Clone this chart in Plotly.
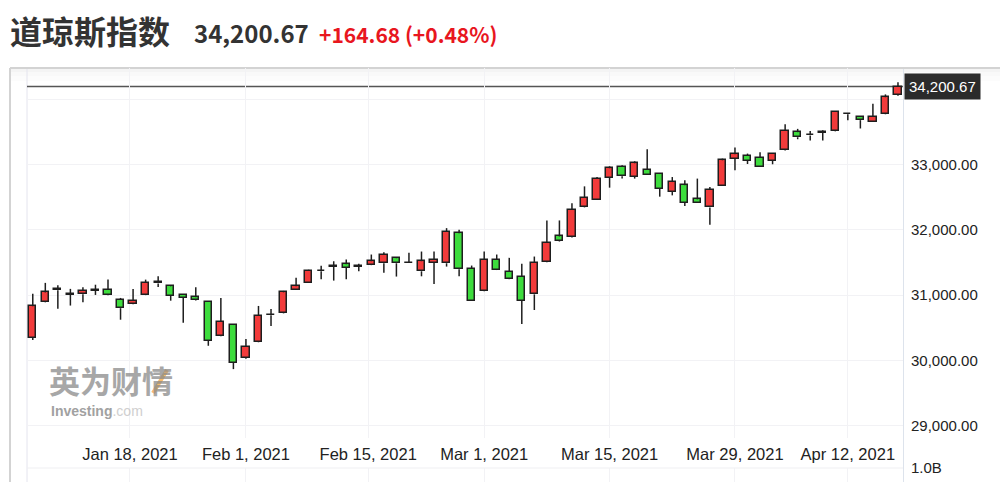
import plotly.graph_objects as go
from datetime import date

# ---------------- data ----------------
dates = [
    "2021-01-06", "2021-01-07", "2021-01-08", "2021-01-11", "2021-01-12", "2021-01-13", "2021-01-14", "2021-01-15",
    "2021-01-19", "2021-01-20", "2021-01-21", "2021-01-22", "2021-01-25", "2021-01-26", "2021-01-27", "2021-01-28",
    "2021-01-29", "2021-02-01", "2021-02-02", "2021-02-03", "2021-02-04", "2021-02-05", "2021-02-08", "2021-02-09",
    "2021-02-10", "2021-02-11", "2021-02-12", "2021-02-16", "2021-02-17", "2021-02-18", "2021-02-19", "2021-02-22",
    "2021-02-23", "2021-02-24", "2021-02-25", "2021-02-26", "2021-03-01", "2021-03-02", "2021-03-03", "2021-03-04",
    "2021-03-05", "2021-03-08", "2021-03-09", "2021-03-10", "2021-03-11", "2021-03-12", "2021-03-15", "2021-03-16",
    "2021-03-17", "2021-03-18", "2021-03-19", "2021-03-22", "2021-03-23", "2021-03-24", "2021-03-25", "2021-03-26",
    "2021-03-29", "2021-03-30", "2021-03-31", "2021-04-01", "2021-04-05", "2021-04-06", "2021-04-07", "2021-04-08",
    "2021-04-09", "2021-04-12", "2021-04-13", "2021-04-14", "2021-04-15", "2021-04-16",
]
opens = [
    30345, 30890, 31075, 31015, 31012, 31082, 31085, 30926,
    30868, 31008, 31195, 31135, 30997, 30966, 30895, 30366,
    30541, 30034, 30274, 30690, 30726, 31085, 31182, 31366,
    31442, 31474, 31434, 31469, 31489, 31566, 31492, 31366,
    31495, 31489, 31951, 31403, 31065, 31546, 31362, 31280,
    31012, 31511, 31900, 31889, 32346, 32465, 32803, 32972,
    32818, 32926, 32858, 32582, 32685, 32469, 32346, 32680,
    33089, 33135, 33111, 33058, 33228, 33500, 33456, 33492,
    33515, 33780, 33735, 33658, 33782, 34069,
]
highs = [
    31022, 31188, 31150, 31096, 31120, 31160, 31238, 30957,
    31096, 31238, 31290, 31140, 31000, 31120, 30900, 30957,
    30545, 30326, 30834, 30788, 31065, 31265, 31390, 31449,
    31520, 31546, 31480, 31623, 31659, 31570, 31649, 31669,
    31669, 32028, 32003, 31454, 31669, 31623, 31572, 31480,
    31592, 32146, 32146, 32408, 32669, 32812, 32977, 32992,
    33054, 33238, 32862, 32812, 32762, 32788, 32658, 33095,
    33265, 33172, 33192, 33170, 33623, 33551, 33520, 33531,
    33812, 33785, 33740, 33935, 34080, 34265,
]
lows = [
    30313, 30885, 30790, 30840, 30890, 31003, 30990, 30623,
    30860, 31000, 31126, 30915, 30577, 30915, 30223, 30360,
    29865, 30025, 30270, 30527, 30720, 31080, 31180, 31243,
    31223, 31243, 31366, 31460, 31342, 31285, 31487, 31289,
    31172, 31438, 31289, 30910, 31060, 31385, 31245, 30557,
    30772, 31505, 31820, 31880, 32340, 32460, 32649, 32788,
    32788, 32845, 32511, 32531, 32366, 32415, 32080, 32675,
    32915, 33012, 32966, 33008, 33220, 33392, 33372, 33372,
    33510, 33685, 33557, 33655, 33775, 34060,
]
closes = [
    30829, 31041, 31090, 31009, 31065, 31070, 30995, 30800,
    30915, 31188, 31180, 30992, 30955, 30922, 30300, 30592,
    29966, 30208, 30685, 30700, 31043, 31135, 31377, 31374,
    31435, 31423, 31442, 31520, 31623, 31489, 31488, 31520,
    31541, 31972, 31397, 30915, 31541, 31392, 31249, 30915,
    31500, 31803, 31828, 32305, 32495, 32782, 32946, 32823,
    33023, 32849, 32634, 32735, 32418, 32418, 32612, 33069,
    33162, 33065, 32966, 33166, 33526, 33423, 33450, 33497,
    33812, 33774, 33685, 33735, 34035.99, 34200.67,
]

x_tick_dates = ["2021-01-18", "2021-02-01", "2021-02-15", "2021-03-01", "2021-03-15", "2021-03-29", "2021-04-12"]
x_tick_text = ["Jan 18, 2021", "Feb 1, 2021", "Feb 15, 2021", "Mar 1, 2021", "Mar 15, 2021", "Mar 29, 2021", "Apr 12, 2021"]
y_tick_vals = [29000, 30000, 31000, 32000, 33000, 34000]
y_tick_text = ["29,000.00", "30,000.00", "31,000.00", "32,000.00", "33,000.00", ""]
vol_tick_vals = [1.0e9]
vol_tick_text = ["1.0B"]

title_text = "道琼斯指数"

# ---------------- derived ----------------
idx = list(range(len(dates)))
trade_days = [date.fromisoformat(d) for d in dates]


def tick_pos(ds):
    d = date.fromisoformat(ds)
    for i, td in enumerate(trade_days):
        if td >= d:
            return i if td == d else i - 0.25
    return len(trade_days) - 1


x_tick_vals = [tick_pos(d) for d in x_tick_dates]

UP = "#f23b3b"
DOWN = "#3ddc3d"
EDGE = "#1e1e1e"

body_base = [min(o, c) for o, c in zip(opens, closes)]
body_h = [abs(c - o) for o, c in zip(opens, closes)]
body_col = [UP if c >= o else DOWN for o, c in zip(opens, closes)]

wx, wy = [], []
for i, o, h, l, c in zip(idx, opens, highs, lows, closes):
    top, bot = max(o, c), min(o, c)
    if h > top:
        wx += [i, i, None]
        wy += [top, h, None]
    if l < bot:
        wx += [i, i, None]
        wy += [l, bot, None]

last_close = closes[-1]
change = last_close - closes[-2]
pct = change / closes[-2] * 100

# ---------------- figure ----------------
W, H = 1000, 482


def px_x(v):
    return v / W


def px_y(v):
    return 1 - v / H


fig = go.Figure()
fig.add_trace(go.Scatter(x=wx, y=wy, mode="lines", line=dict(color=EDGE, width=1.5),
                         hoverinfo="skip", showlegend=False, xaxis="x", yaxis="y"))
fig.add_trace(go.Bar(x=idx, y=body_h, base=body_base, width=0.58,
                     marker=dict(color=body_col, line=dict(color=EDGE, width=1.5)),
                     showlegend=False, xaxis="x", yaxis="y"))
fig.add_trace(go.Scatter(x=[], y=[], xaxis="x2", yaxis="y2", showlegend=False))

grid = "#f2f2f5"
tickfont_x = dict(family="Liberation Sans, Arial", size=16.5, color="#222")
tickfont_y = dict(family="Liberation Sans, Arial", size=15, color="#222")
fig.update_layout(
    template="none",
    width=W, height=H, autosize=False,
    margin=dict(l=0, r=0, t=0, b=0, pad=0),
    paper_bgcolor="white", plot_bgcolor="white",
    bargap=0, showlegend=False,
    xaxis=dict(domain=[px_x(27), px_x(903)], range=[-0.46, 69.4], anchor="y", automargin=False,
               tickvals=x_tick_vals, ticktext=x_tick_text, showgrid=True, gridcolor=grid, gridwidth=1,
               zeroline=False, showline=False, ticks="", ticklabelstandoff=4, tickfont=tickfont_x),
    yaxis=dict(domain=[px_y(438), px_y(68)], range=[28808, 34485], anchor="x", side="right", automargin=False,
               tickvals=y_tick_vals, ticktext=y_tick_text, showgrid=True, gridcolor=grid, gridwidth=1,
               zeroline=False, showline=False, ticks="", ticklabelstandoff=7, tickfont=tickfont_y),
    xaxis2=dict(domain=[px_x(27), px_x(903)], range=[-0.46, 69.4], anchor="y2", automargin=False,
                tickvals=x_tick_vals, showticklabels=False, showgrid=True, gridcolor=grid, gridwidth=1,
                zeroline=False, showline=False, ticks=""),
    yaxis2=dict(domain=[0, px_y(468)], range=[0.0, 1.0e9], anchor="x2", side="right", automargin=False,
                tickvals=vol_tick_vals, ticktext=vol_tick_text, showgrid=False,
                zeroline=False, showline=False, ticks="", ticklabelstandoff=7, tickfont=tickfont_y),
)

shapes = [
    dict(type="line", xref="paper", yref="paper", x0=px_x(10), x1=1, y0=px_y(68), y1=px_y(68),
         line=dict(color="#d3d3d3", width=2), layer="below"),
    dict(type="rect", xref="paper", yref="paper", x0=px_x(11), x1=1, y0=px_y(72), y1=px_y(69),
         fillcolor="rgba(0,0,0,0.045)", line=dict(width=0), layer="below"),
    dict(type="rect", xref="paper", yref="paper", x0=px_x(11), x1=1, y0=px_y(76), y1=px_y(72),
         fillcolor="rgba(0,0,0,0.022)", line=dict(width=0), layer="below"),
    dict(type="rect", xref="paper", yref="paper", x0=px_x(11), x1=1, y0=px_y(81), y1=px_y(76),
         fillcolor="rgba(0,0,0,0.01)", line=dict(width=0), layer="below"),
    dict(type="line", xref="paper", yref="paper", x0=px_x(10), x1=px_x(10), y0=0, y1=px_y(68),
         line=dict(color="#d3d3d3", width=2), layer="below"),
    dict(type="line", xref="paper", yref="paper", x0=px_x(27), x1=px_x(27), y0=0, y1=px_y(69),
         line=dict(color="#e4e4ee", width=1), layer="below"),
    dict(type="line", xref="paper", yref="paper", x0=px_x(903.5), x1=px_x(903.5), y0=0, y1=px_y(69),
         line=dict(color="#dde3ec", width=1), layer="below"),
    dict(type="line", xref="paper", yref="paper", x0=px_x(27), x1=px_x(903), y0=px_y(468), y1=px_y(468),
         line=dict(color="#efeff2", width=1), layer="below"),
    dict(type="line", xref="paper", yref="y", x0=px_x(27), x1=px_x(903), y0=last_close, y1=last_close,
         line=dict(color="#555555", width=1.5), layer="below"),
    dict(type="line", xref="paper", yref="paper", x0=px_x(153), x1=px_x(167), y0=px_y(393), y1=px_y(370),
         line=dict(color="rgba(245,166,60,0.75)", width=4)),
]

annotations = [
    dict(text="<b>" + title_text + "</b>", xref="paper", yref="paper", x=px_x(8), y=px_y(30),
         xanchor="left", yanchor="middle", showarrow=False,
         font=dict(family="Noto Sans CJK SC", size=32, color="#333333")),
    dict(text="<b>" + f"{last_close:,.2f}" + "</b>", xref="paper", yref="paper", x=px_x(192), y=px_y(33),
         xanchor="left", yanchor="middle", showarrow=False,
         font=dict(family="Noto Sans CJK SC", size=24, color="#333333")),
    dict(text="<b>" + f"{change:+.2f} ({pct:+.2f}%)" + "</b>", xref="paper", yref="paper", x=px_x(317), y=px_y(34),
         xanchor="left", yanchor="middle", showarrow=False,
         font=dict(family="Noto Sans CJK SC", size=21, color="#e8161e")),
    dict(text=f"{last_close:,.2f}", xref="paper", yref="y", x=px_x(904), y=last_close,
         xanchor="left", yanchor="middle", showarrow=False, bgcolor="#2b2b2b", borderpad=4,
         font=dict(family="Liberation Sans, Arial", size=15, color="white")),
    dict(text="<b>英为财情</b>", xref="paper", yref="paper", x=px_x(47), y=px_y(379),
         xanchor="left", yanchor="middle", showarrow=False, opacity=0.75,
         font=dict(family="Noto Sans CJK SC", size=31, color="#8a8a8a")),
    dict(text="<b>Investing</b><span style='color:#c4c4c4'>.com</span>", xref="paper", yref="paper",
         x=px_x(49), y=px_y(411), xanchor="left", yanchor="middle", showarrow=False, opacity=0.8,
         font=dict(family="Liberation Sans, Arial", size=14, color="#8a8a8a")),
]

fig.update_layout(shapes=shapes, annotations=annotations)

fig.write_html("out.html", config={"displayModeBar": False})
